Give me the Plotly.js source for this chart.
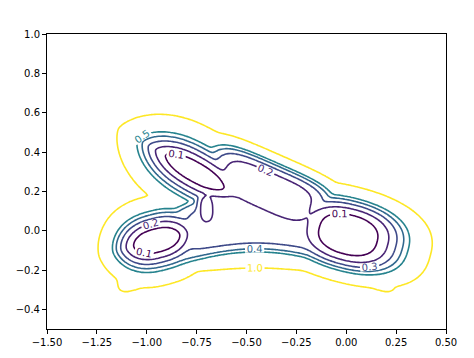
<!DOCTYPE html>
<html><head><meta charset="utf-8">
<script src="https://cdn.plot.ly/plotly-3.0.1.min.js"></script>
<style>html,body{margin:0;padding:0;background:#fff}</style>
</head><body><div id="chart" style="width:474px;height:358px"></div>
<script>
// contour levels and colours (viridis, as in the reference)
const levelsLow = [0.1, 0.2, 0.3, 0.4, 0.5];
const levelHigh = [1.0];
const levelColors = ['#440154', '#482475', '#3e4a89', '#31688e', '#26838e'];
const highColor = '#fde725';
// basins of the surface
const basinX = [-0.76, -0.95, 0.01, -0.40, -0.45, -0.45, -0.70];
const basinY = [0.30, -0.05, -0.02, 0.205, 0.05, 0.0, 0.11];
const basinAngle = [-30, 15, -15, -24, 0, 0, 90];
const basinBend = [0, 0, 0, 0, 0.5, 0.3, 0];
const basinFloor = [0, 0, 0, 0.13, 0.25, 0.40, 0.14];
const basinSu = [0.44, 0.30, 0.425, 0.45, 0.75, 0.6, 0.16];
const basinPu = [2.4, 2.5, 2.2, 4, 4, 4, 3];
const basinSv = [0.23, 0.23, 0.246, 0.20, 0.211, 0.245, 0.12];
const basinPv = [1.5, 1.7, 2.56, 3.4, 4.8, 2, 2];
const softness = 0.035;
const xTicks = [-1.5, -1.25, -1.0, -0.75, -0.5, -0.25, 0.0, 0.25, 0.5];
const yTicks = [-0.4, -0.2, 0.0, 0.2, 0.4, 0.6, 0.8, 1.0];
const xRange = [-1.5, 0.5], yRange = [-0.5, 1.0];
const step = 0.01;

const xs = [], ys = [];
for (let i = 0; xRange[0] + i * step <= xRange[1] + 1e-9; i++) xs.push(+(xRange[0] + i * step).toFixed(4));
for (let j = 0; yRange[0] + j * step <= yRange[1] + 1e-9; j++) ys.push(+(yRange[0] + j * step).toFixed(4));

function basinValue(k, x, y) {
  const a = basinAngle[k] * Math.PI / 180;
  const dx = x - basinX[k], dy = y - basinY[k];
  const u = dx * Math.cos(a) + dy * Math.sin(a);
  const v = -dx * Math.sin(a) + dy * Math.cos(a) + basinBend[k] * u * u;
  return basinFloor[k] + Math.pow(Math.abs(u) / basinSu[k], basinPu[k]) + Math.pow(Math.abs(v) / basinSv[k], basinPv[k]);
}
const z = ys.map(y => xs.map(x => {
  let s = 0;
  for (let k = 0; k < basinX.length; k++) s += Math.exp(-basinValue(k, x, y) / softness);
  return -softness * Math.log(s);
}));

function scale(cols) {
  return cols.map((c, i) => [i / (cols.length - 1), c]);
}

const common = {
  type: 'contour', x: xs, y: ys, z: z, showscale: false, autocontour: false,
  line: {width: 1.6, smoothing: 1},
  hoverinfo: 'skip'
};
const traceLow = Object.assign({}, common, {
  zmin: levelsLow[0], zmax: levelsLow[levelsLow.length - 1],
  colorscale: scale(levelColors),
  contours: {coloring: 'lines', start: levelsLow[0], end: levelsLow[levelsLow.length - 1], size: 0.1,
             showlabels: true, labelformat: '.1f', labelfont: {size: 10, family: 'DejaVu Sans'}}
});
const traceHigh = Object.assign({}, common, {
  zmin: 0, zmax: 2,
  colorscale: [[0, highColor], [1, highColor]],
  contours: {coloring: 'lines', start: levelHigh[0], end: levelHigh[0], size: 1,
             showlabels: true, labelformat: '.1f', labelfont: {size: 10, family: 'DejaVu Sans', color: highColor}}
});

const axisCommon = {
  showgrid: false, zeroline: false, showline: true, mirror: true, linecolor: '#000', linewidth: 1,
  ticks: 'outside', ticklen: 4, tickwidth: 1, tickcolor: '#000',
  tickfont: {family: 'DejaVu Sans', size: 10, color: '#000'}
};
const layout = {
  width: 474, height: 358,
  margin: {l: 47, r: 28, t: 34, b: 29, pad: 0},
  paper_bgcolor: '#fff', plot_bgcolor: '#fff',
  showlegend: false,
  xaxis: Object.assign({}, axisCommon, {range: xRange, tickvals: xTicks, ticktext: xTicks.map(v => v.toFixed(2).replace('-', '\u2212'))}),
  yaxis: Object.assign({}, axisCommon, {range: yRange, tickvals: yTicks, ticktext: yTicks.map(v => v.toFixed(1).replace('-', '\u2212'))})
};
Plotly.newPlot('chart', [traceLow, traceHigh], layout, {staticPlot: true, displayModeBar: false});
</script></body></html>
